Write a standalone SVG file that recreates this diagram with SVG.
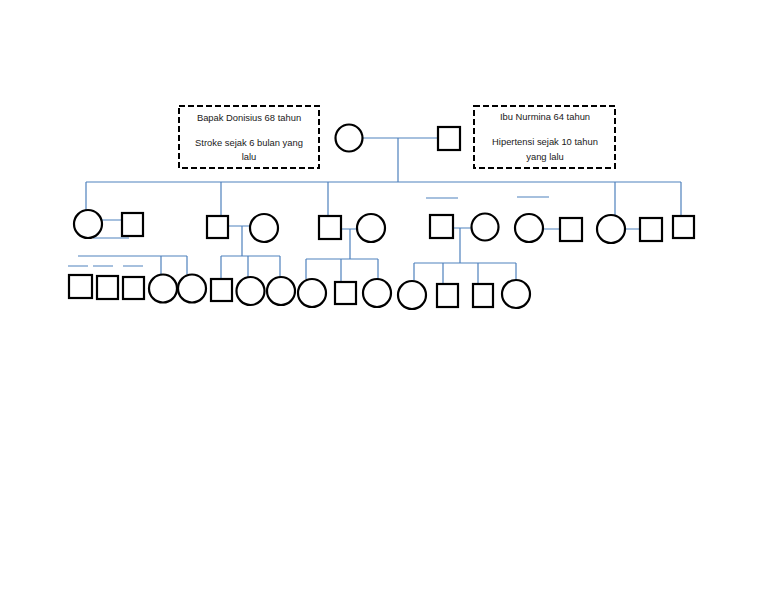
<svg xmlns="http://www.w3.org/2000/svg" width="768" height="594" viewBox="0 0 768 594">
<style>
.c{fill:#fff;stroke:#000;stroke-width:2.2}
.s{fill:#fff;stroke:#000;stroke-width:2.2}
.l{stroke:#4f81bd;stroke-width:1.2;fill:none}
.b{fill:#fff;stroke:#000;stroke-width:2;stroke-dasharray:6,3}
.t{font-family:"Liberation Sans",Arial,sans-serif;font-size:9.4px;fill:#1a1a1a;text-anchor:middle}
</style>
<rect width="768" height="594" fill="#fff"/>
<g id="connectors">
<path class="l" d="M363,138H438 M398,138V182 M86,182H681 M86,182V210 M221,182V216 M328,182V215 M615,182V215 M681,182V216"/>
<path class="l" d="M102,220H122 M93,238H129"/>
<path class="l" d="M228,226H250 M242,226V256 M221,256H280 M221,256V278 M248,256V277 M280,256V277"/>
<path class="l" d="M78,256H187 M161,256V274 M187,256V274 M68,266H88 M93,266H113 M123,266H143"/>
<path class="l" d="M341,229H357 M350,229V259 M306,259H378 M306,259V279 M341,259V282 M378,259V279"/>
<path class="l" d="M453,228H472 M460,228V263 M414,263H516 M414,263V280 M443,263V284 M478,263V284 M516,263V280"/>
<path class="l" d="M426,198H458 M517,197H549"/>
<path class="l" d="M543,229H560 M626,229H640"/>
</g>
<g id="note-father">
<rect class="b" x="179" y="106" width="140" height="62"/>
<text class="t" x="249" y="121">Bapak Donisius 68 tahun</text>
<text class="t" x="249" y="146">Stroke sejak 6 bulan yang</text>
<text class="t" x="249" y="160">lalu</text>
</g>
<g id="note-mother">
<rect class="b" x="474" y="106" width="141" height="62"/>
<text class="t" x="545" y="120">Ibu Nurmina 64 tahun</text>
<text class="t" x="545" y="145">Hipertensi sejak 10 tahun</text>
<text class="t" x="545" y="160">yang lalu</text>
</g>
<g id="grandparent-female"><circle class="c" cx="349" cy="138" r="13.5"/></g>
<g id="grandparent-male"><rect class="s" x="438" y="127" width="22" height="23"/></g>
<g id="gen2-1"><circle class="c" cx="88" cy="224" r="14"/></g>
<g id="gen2-1-spouse"><rect class="s" x="122" y="213" width="21" height="23"/></g>
<g id="gen2-2"><rect class="s" x="207" y="216" width="21" height="22"/></g>
<g id="gen2-2-spouse"><circle class="c" cx="264" cy="228" r="14"/></g>
<g id="gen2-3"><rect class="s" x="319" y="216" width="22" height="23"/></g>
<g id="gen2-3-spouse"><circle class="c" cx="371" cy="228" r="14"/></g>
<g id="gen2-4"><rect class="s" x="430" y="215" width="23" height="23"/></g>
<g id="gen2-4-spouse"><circle class="c" cx="485" cy="227" r="13.5"/></g>
<g id="gen2-5"><circle class="c" cx="529" cy="228" r="14"/></g>
<g id="gen2-5-spouse"><rect class="s" x="560" y="218" width="22" height="23"/></g>
<g id="gen2-6"><circle class="c" cx="611" cy="229" r="14"/></g>
<g id="gen2-6-spouse"><rect class="s" x="640" y="218" width="22" height="23"/></g>
<g id="gen2-7"><rect class="s" x="673" y="216" width="21" height="22"/></g>
<g id="gen3-1"><rect class="s" x="69" y="275" width="23" height="23"/></g>
<g id="gen3-2"><rect class="s" x="97" y="276" width="21" height="23"/></g>
<g id="gen3-3"><rect class="s" x="123" y="277" width="21" height="22"/></g>
<g id="gen3-4"><circle class="c" cx="163" cy="288.5" r="14"/></g>
<g id="gen3-5"><circle class="c" cx="192" cy="288.5" r="14"/></g>
<g id="gen3-6"><rect class="s" x="211" y="279" width="21" height="22"/></g>
<g id="gen3-7"><circle class="c" cx="250.5" cy="291" r="14"/></g>
<g id="gen3-8"><circle class="c" cx="281" cy="291" r="14"/></g>
<g id="gen3-9"><circle class="c" cx="312" cy="293" r="14"/></g>
<g id="gen3-10"><rect class="s" x="335" y="282" width="21" height="22"/></g>
<g id="gen3-11"><circle class="c" cx="377" cy="293" r="14"/></g>
<g id="gen3-12"><circle class="c" cx="412" cy="295" r="14"/></g>
<g id="gen3-13"><rect class="s" x="437" y="284" width="21" height="23"/></g>
<g id="gen3-14"><rect class="s" x="473" y="284" width="20" height="23"/></g>
<g id="gen3-15"><circle class="c" cx="516" cy="294" r="14"/></g>
</svg>
